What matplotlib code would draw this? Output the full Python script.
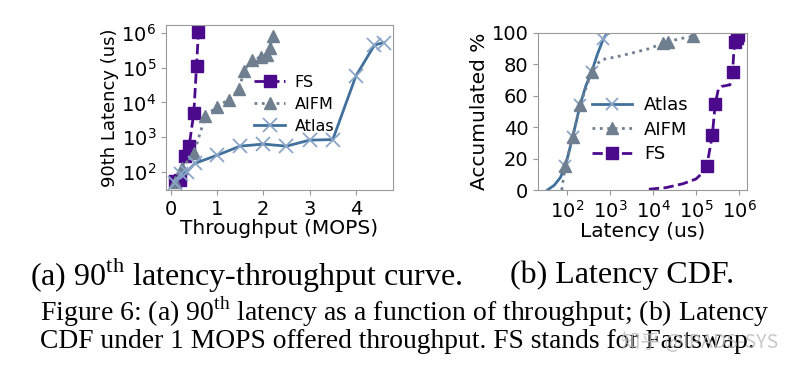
import matplotlib
matplotlib.use('Agg')
import matplotlib.pyplot as plt

plt.rcParams['font.family'] = ['DejaVu Sans']
plt.rcParams['mathtext.fontset'] = 'custom'
plt.rcParams['mathtext.rm'] = 'Liberation Serif'

# (a) 90th latency vs throughput
fs_tput    = [0.1, 0.2, 0.3, 0.4, 0.5, 0.56, 0.6]
fs_p90     = [54, 58, 290, 560, 4900, 1.15e5, 1.1e6]
aifm_tput  = [0.1, 0.25, 0.5, 0.75, 1.0, 1.25, 1.48, 1.58, 1.76, 1.95, 2.07, 2.14, 2.2]
aifm_p90   = [50, 130, 340, 4000, 7600, 1.2e4, 2.4e4, 8e4, 1.7e5, 2e5, 2.3e5, 3.6e5, 8.2e5]
atlas_tput = [0.1, 0.23, 0.35, 0.52, 1.0, 1.5, 2.0, 2.5, 3.0, 3.5, 4.0, 4.4, 4.6]
atlas_p90  = [48, 85, 100, 175, 300, 550, 630, 550, 820, 850, 5.8e4, 4.5e5, 5.3e5]

# (b) latency CDF at 1 MOPS
atlas_lat = [35, 50, 70, 90, 110, 135, 165, 200, 270, 370, 500, 690, 820, 950]
atlas_pct = [0, 3, 8, 15, 24, 34, 44, 54, 66, 75, 86, 96, 99, 100]
aifm_lat  = [75, 90, 135, 200, 370, 450, 630, 1500, 3000, 8000, 17500, 22000, 45000, 87000]
aifm_pct  = [0, 15, 34, 54, 75, 79, 83, 85, 87, 90, 93.5, 94.5, 96.5, 98]
fs_lat    = [8e3, 2e4, 5e4, 1e5, 1.3e5, 1.78e5, 2.4e5, 2.8e5, 3.3e5, 4e5, 6.2e5, 7.1e5, 7.6e5, 8.2e5, 8.8e5, 9.5e5]
fs_pct    = [0.5, 1.5, 4, 7, 10, 15, 35, 54.5, 64, 66, 67, 75, 88, 94.5, 97, 98.5]

c_fs = '#4b0a8c'
c_aifm = '#6f7f90'
c_atlas = '#41709c'
c_atlas_mk = '#8ba6c8'
c_spine = '#999999'

fig = plt.figure(figsize=(8.02, 3.74), dpi=100)

ax1 = fig.add_axes([166/802, 1-190/374, 227/802, 165/374])
ax1.plot(fs_tput, fs_p90, ls='--', color=c_fs, lw=2, marker='s', ms=9, label='FS')
ax1.plot(aifm_tput, aifm_p90, ls=':', color=c_aifm, lw=2, marker='^', ms=9, label='AIFM')
ax1.plot(atlas_tput, atlas_p90, ls='-', color=c_atlas, lw=2, marker='x', ms=10,
         mec=c_atlas_mk, mew=1.3, label='Atlas')
ax1.set_yscale('log')
ax1.set_xlim(-0.1, 4.8)
ax1.set_ylim(30, 1.7e6)
ax1.set_xticks([0, 1, 2, 3, 4])
ax1.set_yticks([1e2, 1e3, 1e4, 1e5, 1e6])
ax1.tick_params(labelsize=14)
ax1.set_xlabel('Throughput (MOPS)', fontsize=14.5, labelpad=0)
ax1.set_ylabel('90th Latency (us)', fontsize=13, labelpad=2)
ax1.legend(loc='center', bbox_to_anchor=(0.565, 0.52), frameon=False,
           fontsize=11.5, handlelength=1.9, handletextpad=0.6, labelspacing=0.45)

ax2 = fig.add_axes([538/802, 1-190/374, 209/802, 157/374])
ax2.plot(atlas_lat, atlas_pct, ls='-', color=c_atlas, lw=2, marker='x', ms=9,
         mec=c_atlas_mk, mew=1.3, markevery=[3, 5, 7, 9, 11], label='Atlas')
ax2.plot(aifm_lat, aifm_pct, ls=':', color=c_aifm, lw=2, marker='^', ms=8,
         markevery=[1, 2, 3, 4, 10, 11, 13], label='AIFM')
ax2.plot(fs_lat, fs_pct, ls='--', color=c_fs, lw=2, marker='s', ms=8,
         markevery=[5, 6, 7, 11, 13, 14, 15], label='FS')
ax2.set_xscale('log')
ax2.set_xlim(21, 1.54e6)
ax2.set_ylim(0, 100)
ax2.set_xticks([1e2, 1e3, 1e4, 1e5, 1e6])
ax2.set_yticks([0, 20, 40, 60, 80, 100])
ax2.tick_params(labelsize=14)
ax2.set_xlabel('Latency (us)', fontsize=14.5, labelpad=0)
ax2.set_ylabel('Accumulated %', fontsize=14.5, labelpad=2)
ax2.legend(loc='center', bbox_to_anchor=(0.49, 0.385), frameon=False,
           fontsize=13, handlelength=2.2, handletextpad=0.7, labelspacing=0.35)

for ax in (ax1, ax2):
    for s in ax.spines.values():
        s.set_color(c_spine)
    ax.tick_params(which='both', color=c_spine)

serif = 'Liberation Serif'
fig.text(30/802, 1-275/374, '(a) 90$^{\\mathrm{th}}$ latency-throughput curve.',
         family=serif, fontsize=23, va='center', ha='left')
fig.text(510/802, 1-275/374, '(b) Latency CDF.',
         family=serif, fontsize=23, va='center', ha='left')
fig.text(40/802, 1-312/374,
         'Figure 6: (a) 90$^{\\mathrm{th}}$ latency as a function of throughput; (b) Latency',
         family=serif, fontsize=20, va='center', ha='left')
fig.text(40/802, 1-342/374,
         'CDF under 1 MOPS offered throughput. FS stands for Fastswap.',
         family=serif, fontsize=19.8, va='center', ha='left')
# watermark lying over the caption, as in the source image
fig.text(778/802, 1-343/374, '知乎 @IPADS-SYS', family=['Noto Sans CJK SC', 'DejaVu Sans'],
         fontsize=14, color='#bbbbbb', alpha=0.8, va='center', ha='right')

fig.savefig('out.png', dpi=100)
